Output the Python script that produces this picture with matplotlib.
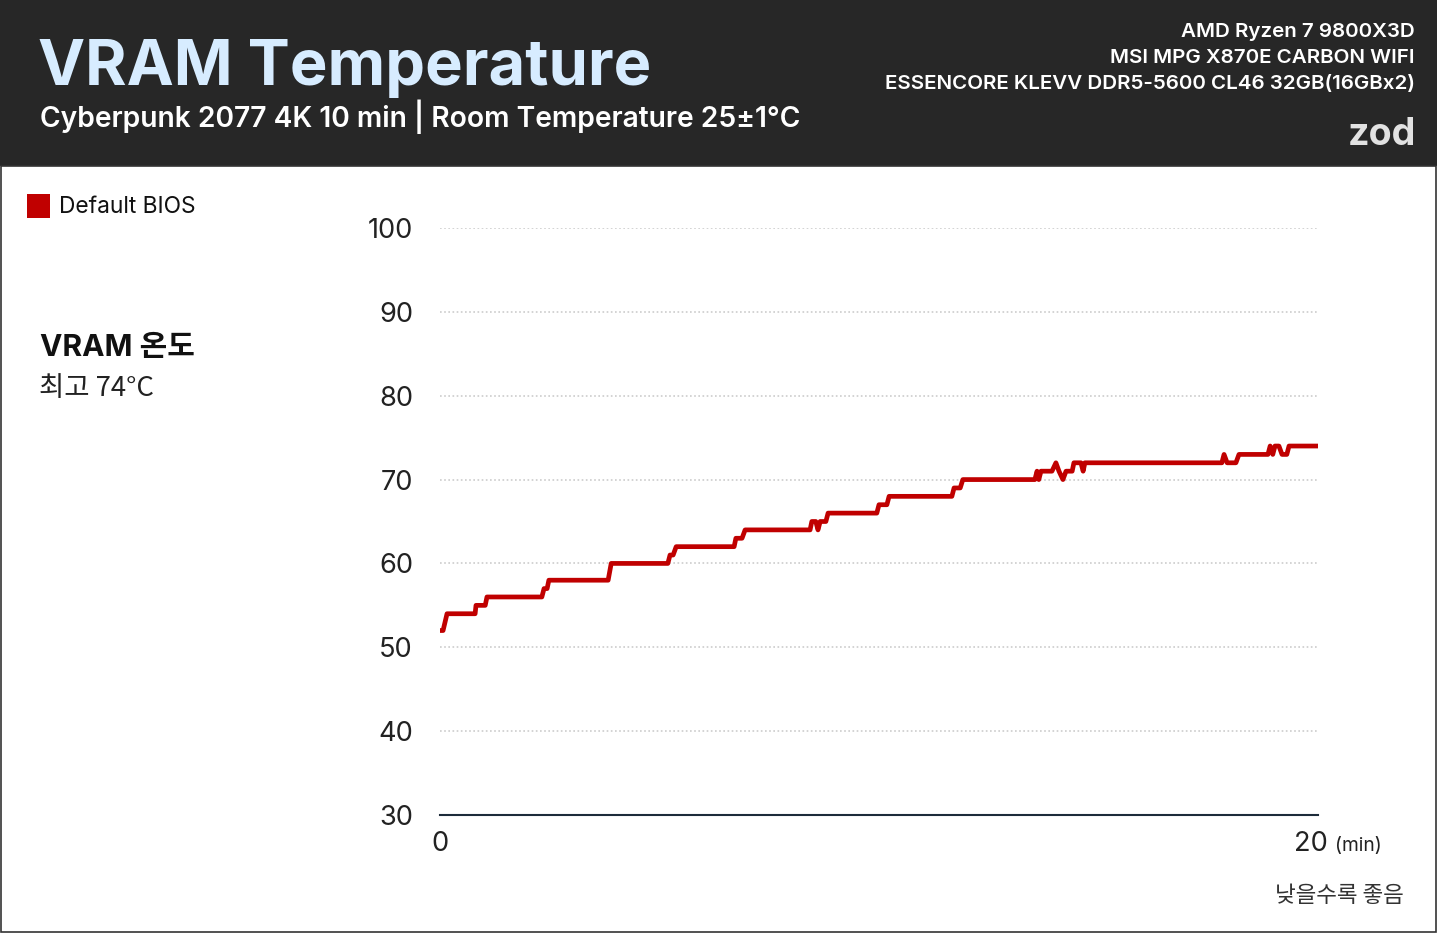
import numpy as np
import matplotlib; matplotlib.use("Agg")
import matplotlib.pyplot as plt
from matplotlib.patches import Rectangle

FONT = ["Inter", "Noto Sans CJK KR", "DejaVu Sans"]
KFONT = ["Noto Sans CJK KR", "DejaVu Sans"]
plt.rcParams["font.family"] = FONT

minutes = [0.00, 0.07, 0.16, 0.80, 0.82, 1.03, 1.07, 2.32, 2.37, 2.44, 2.48,
           3.83, 3.90, 5.19, 5.24, 5.31, 5.38, 6.70, 6.74, 6.88, 6.95,
           8.43, 8.47, 8.56, 8.61, 8.66, 8.79, 8.84, 9.95, 10.00, 10.18, 10.23,
           11.66, 11.71, 11.85, 11.91, 13.55, 13.60, 13.64, 13.69, 13.94,
           14.03, 14.10, 14.19, 14.26, 14.40, 14.44, 14.60, 14.65, 14.69,
           17.81, 17.86, 17.93, 18.13, 18.20, 18.86, 18.91, 18.97, 19.02,
           19.11, 19.18, 19.29, 19.34, 20.00]
temp_c = [52, 52, 54, 54, 55, 55, 56, 56, 57, 57, 58,
          58, 60, 60, 61, 61, 62, 62, 63, 63, 64,
          64, 65, 65, 64, 65, 65, 66, 66, 67, 67, 68,
          68, 69, 69, 70, 70, 71, 70, 71, 71,
          72, 71, 70, 71, 71, 72, 72, 71, 72,
          72, 73, 72, 72, 73, 73, 74, 73, 74,
          74, 73, 73, 74, 74]
yticks = [30, 40, 50, 60, 70, 80, 90, 100]
series_name = "Default BIOS"
peak = 74

W, H = 1437, 933
fig = plt.figure(figsize=(W / 100, H / 100), dpi=100)
fig.patch.set_facecolor("white")

def fx(px): return px / W
def fy(py): return 1 - py / H

# header band + thin frame
fig.add_artist(Rectangle((0, fy(166)), 1, 166 / H, transform=fig.transFigure,
                         facecolor="#272727", edgecolor="none", zorder=0))
fig.add_artist(Rectangle((0.0004, 0.0006), 0.9988, fy(166) - 0.0006, transform=fig.transFigure,
                         facecolor="none", edgecolor="#333333", lw=1.2, zorder=1))

fig.text(fx(38), fy(68), "VRAM Temperature", fontsize=45.5, fontweight="bold",
         color="#d7ecff", va="center", ha="left")
fig.text(fx(40), fy(117), "Cyberpunk 2077 4K 10 min | Room Temperature 25±1°C",
         fontsize=20.3, fontweight="semibold", color="white", va="center", ha="left")
for py, s in [(32, "AMD Ryzen 7 9800X3D"), (58, "MSI MPG X870E CARBON WIFI"),
              (84, "ESSENCORE KLEVV DDR5-5600 CL46 32GB(16GBx2)")]:
    fig.text(fx(1415), fy(py), s, fontsize=14.8, fontweight="semibold",
             color="white", va="center", ha="right")
fig.text(fx(1416), fy(135), "zod", fontsize=27, fontweight="bold",
         color="#e2e2e2", va="center", ha="right")

# legend and side notes
fig.add_artist(Rectangle((fx(27), fy(218)), 23 / W, 24 / H, transform=fig.transFigure,
                         facecolor="#c00000", edgecolor="none"))
fig.text(fx(59), fy(207), series_name, fontsize=16.4, color="#111111", va="center", ha="left")
fig.text(fx(40), fy(348), "VRAM 온도", fontsize=21.6, fontweight="bold", color="#111111",
         va="center", ha="left", family=FONT)
fig.text(fx(39), fy(388), f"최고 {peak}°C", fontsize=19.8, color="#222222",
         va="center", ha="left", family=KFONT)

ax = fig.add_axes([fx(440), fy(815), (1318 - 440) / W, (815 - 228) / H])
ax.set_xlim(0, 20)
ax.set_ylim(30, 100)
for y in yticks[1:]:
    ax.axhline(y, color="#cccccc", lw=1.2, ls=(0, (1, 1.5)), zorder=1)
ax.axhline(30, color="#1d2b3a", lw=1.5, zorder=2, clip_on=False)
ax.plot(minutes, temp_c, color="#c00000", lw=3.4, solid_joinstyle="round",
        solid_capstyle="butt", zorder=3)
for s in ax.spines.values():
    s.set_visible(False)
ax.set_xticks([])
ax.set_yticks(yticks)
ax.set_yticklabels([str(v) for v in yticks], fontsize=19.6, color="#222222")
ax.tick_params(axis="y", length=0, pad=19.5)

fig.text(fx(440), fy(844), "0", fontsize=19.6, color="#222222", va="center", ha="center")
fig.text(fx(1311), fy(844), "20", fontsize=19.6, color="#222222", va="center", ha="center")
fig.text(fx(1335), fy(846), "(min)", fontsize=13.8, color="#222222", va="center", ha="left")
fig.text(fx(1404), fy(895), "낮을수록 좋음", fontsize=16.2, color="#333333",
         va="center", ha="right", family=KFONT)

fig.savefig("out.png", dpi=100, facecolor="white")
